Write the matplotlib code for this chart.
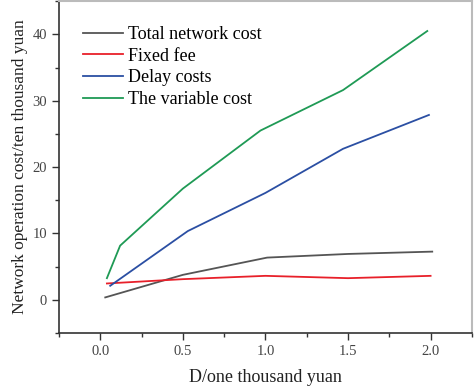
import matplotlib.pyplot as plt
from matplotlib.ticker import MultipleLocator

plt.rcParams['font.family'] = ['Liberation Serif', 'DejaVu Serif']

# data
x_total = [0.03, 0.5, 1.01, 1.5, 2.01]
total_cost = [0.35, 3.75, 6.35, 6.9, 7.25]

x_fixed = [0.04, 0.5, 1.0, 1.5, 2.0]
fixed_fee = [2.45, 3.1, 3.6, 3.25, 3.6]

x_delay = [0.06, 0.53, 1.0, 1.47, 1.99]
delay_cost = [2.1, 10.35, 16.1, 22.75, 27.85]

x_var = [0.04, 0.12, 0.5, 0.97, 1.47, 1.98]
variable_cost = [3.25, 8.15, 16.75, 25.5, 31.6, 40.5]

fig = plt.figure(figsize=(4.74, 3.88), dpi=100)
ax = fig.add_axes([0.1245, 0.142, 0.871, 0.855])

ax.plot(x_total, total_cost, color='#555555', lw=1.3, label='Total network cost')
ax.plot(x_fixed, fixed_fee, color='#e8202a', lw=1.3, label='Fixed fee')
ax.plot(x_delay, delay_cost, color='#2b4fa3', lw=1.3, label='Delay costs')
ax.plot(x_var, variable_cost, color='#1f9a55', lw=1.3, label='The variable cost')

ax.set_xlim(-0.25, 2.25)
ax.set_ylim(-5, 45)
ax.xaxis.set_minor_locator(MultipleLocator(0.25))
ax.yaxis.set_minor_locator(MultipleLocator(5))
ax.set_yticks([0, 10, 20, 30, 40])
ax.set_xticks([0, 0.5, 1.0, 1.5, 2.0])
ax.set_xticklabels(['0.0', '0.5', '1.0', '1.5', '2.0'])

ax.tick_params(which='major', direction='out', length=5, width=1, labelsize=10.5,
               colors='#333333', labelcolor='#444444')
ax.tick_params(which='minor', direction='out', length=3, width=1, colors='#333333')

for s in ['left', 'bottom']:
    ax.spines[s].set_color('#333333')
    ax.spines[s].set_linewidth(1.2)
for s in ['top', 'right']:
    ax.spines[s].set_color('#bbbbbb')
    ax.spines[s].set_linewidth(1.5)

ax.set_xlabel('D/one thousand yuan', fontsize=13, color='#222222', labelpad=8)
ax.set_ylabel('Network operation cost/ten thousand yuan', fontsize=12.5, color='#222222', labelpad=3)

ax.legend(loc='upper left', bbox_to_anchor=(0.041, 0.946), frameon=False, fontsize=13,
          handlelength=2.2, handletextpad=0.3, labelspacing=0.25, borderaxespad=0)

fig.savefig('out.png', dpi=100)
